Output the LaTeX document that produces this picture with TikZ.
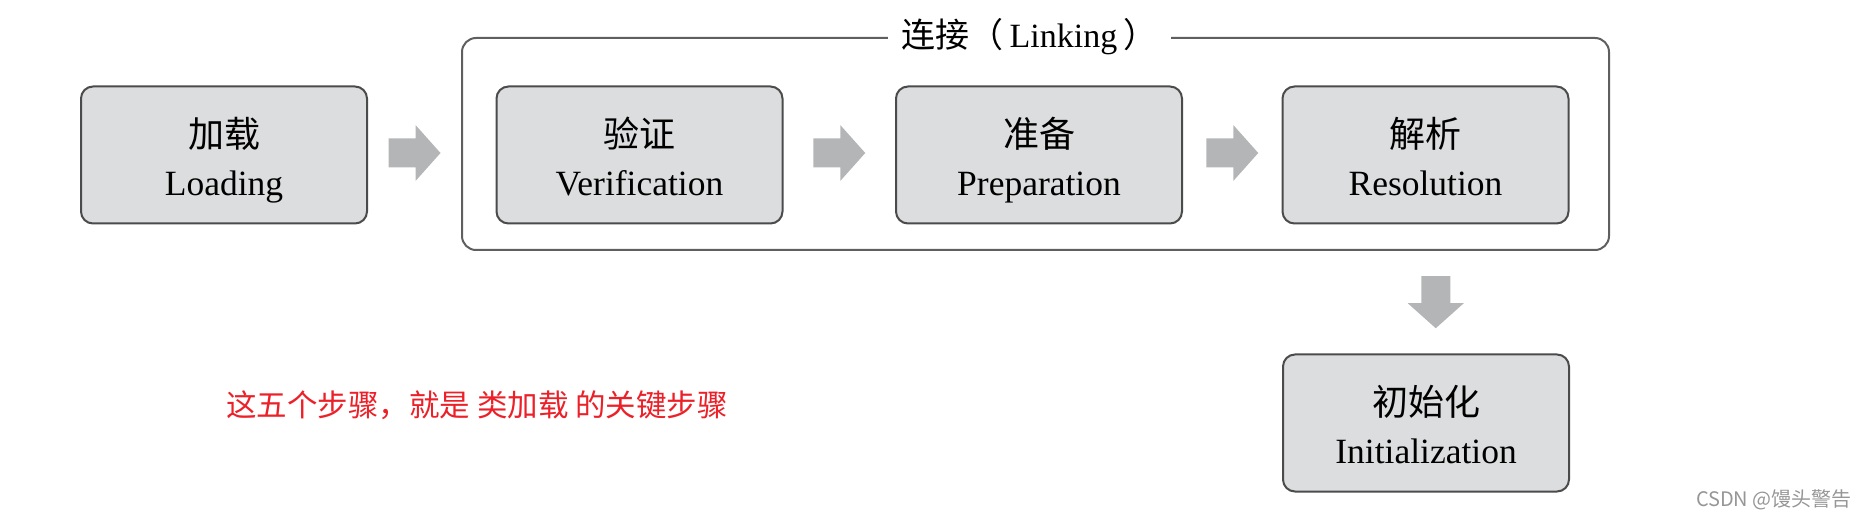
\documentclass[tikz,border=0pt]{standalone}
\usepackage{fontspec}
\setmainfont{Liberation Serif}
\newfontfamily\cjk{Noto Sans CJK SC}
\usetikzlibrary{calc}
\definecolor{boxfill}{RGB}{220,221,222}
\definecolor{boxline}{RGB}{75,75,75}
\definecolor{outerline}{RGB}{95,95,95}
\definecolor{arrowgray}{RGB}{180,181,183}
\definecolor{notered}{RGB}{236,32,40}
\definecolor{wmgray}{RGB}{150,150,150}
\newcommand\twoline[2]{{\cjk\fontsize{36}{47}\selectfont #1}\rule{0pt}{40pt}\\\vphantom{Lg}#2}
\tikzset{
  stagebox/.style={draw=boxline, fill=boxfill, line width=2pt, rounded corners=12pt,
    minimum width=286pt, minimum height=137pt, align=center, inner sep=0pt,
    font=\fontsize{35.5}{48}\selectfont},
  outerbox/.style={draw=outerline, line width=2pt, rounded corners=14pt,
    minimum width=1147pt, minimum height=212pt, inner sep=0pt},
  rarrow/.pic={\fill[arrowgray] (-26,-14.5) -- (1,-14.5) -- (1,-28) -- (26,0) -- (1,28) -- (1,14.5) -- (-26,14.5) -- cycle;}
}
\begin{document}
\begin{tikzpicture}[x=1pt,y=-1pt]
\useasboundingbox (0,0) rectangle (1866,518);
\node[outerbox] (link) at (1035.5,144) {};
\node[fill=white, inner xsep=14pt, inner ysep=2pt, font=\fontsize{34}{38}\selectfont] (title) at ([xshift=-6pt]link.north) {{\cjk 连接（}\kern6pt Linking\kern6pt{\cjk ）}};
\node[stagebox] (load) at (224,155) {\twoline{加载}{Loading}};
\node[stagebox] (verif) at (639.5,155) {\twoline{验证}{Verification}};
\node[stagebox] (prep) at (1039,155) {\twoline{准备}{Preparation}};
\node[stagebox] (res) at (1425.5,155) {\twoline{解析}{Resolution}};
\node[stagebox] (init) at (1426,423) {\twoline{初始化}{Initialization}};
\pic at ([yshift=2pt]$(load.east)!0.5!(link.west |- load.east)$) {rarrow};
\pic at ([yshift=2pt]$(verif.east)!0.5!(prep.west)$) {rarrow};
\pic at ([yshift=2pt]$(prep.east)!0.5!(res.west)$) {rarrow};
\pic[rotate=-90] at ([xshift=10pt]$(res.south |- link.south)!0.5!(init.north)$) {rarrow};
\node[text=notered, font=\cjk\fontsize{30.5}{34}\selectfont, inner sep=0pt] (note) at (477,405) {这五个步骤，就是 类加载 的关键步骤};
\node[text=wmgray, font=\cjk\fontsize{20}{22}\selectfont, inner sep=0pt, anchor=east] (wm) at (1852,500) {CSDN @馒头警告};
\end{tikzpicture}
\end{document}
